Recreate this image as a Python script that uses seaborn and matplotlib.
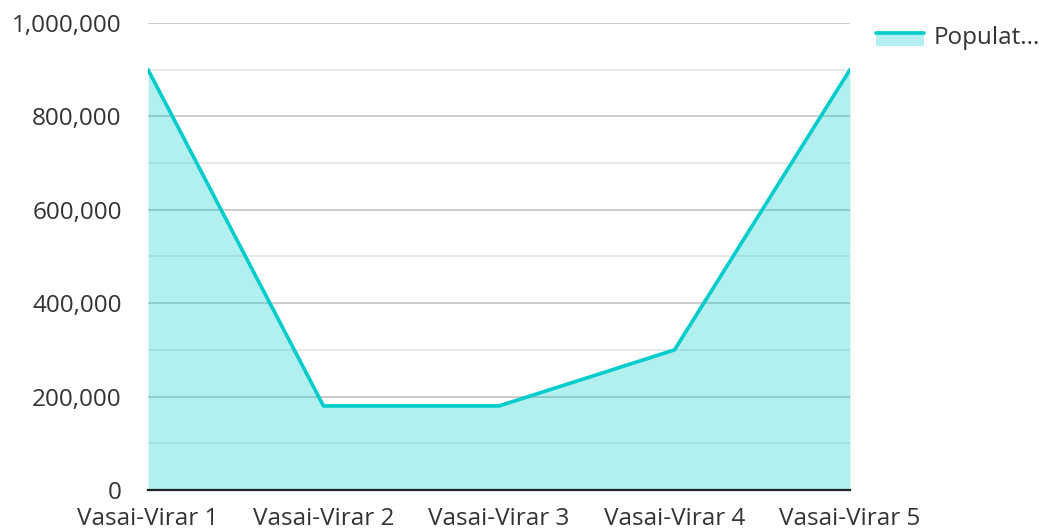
import matplotlib
matplotlib.use("Agg")
import matplotlib.pyplot as plt
import seaborn as sns
import pandas as pd
from matplotlib.ticker import MultipleLocator, FuncFormatter
from matplotlib.legend_handler import HandlerBase
from matplotlib.patches import Rectangle
from matplotlib.lines import Line2D

# data
cities = ['Vasai-Virar 1', 'Vasai-Virar 2', 'Vasai-Virar 3', 'Vasai-Virar 4', 'Vasai-Virar 5']
population = [900000, 180000, 180000, 300000, 900000]
series_name = 'Populat...'

line_col = '#00cccc'
text_col = '#333333'
fs = 17.5

df = pd.DataFrame({'x': range(len(cities)), 'city': cities, 'Population': population})

sns.set_theme(style='white')
plt.rcParams['font.family'] = ['Open Sans', 'DejaVu Sans']

fig = plt.figure(figsize=(10.47, 5.31), dpi=100)
ax = fig.add_axes([0.1414, 0.0772, 0.8118 - 0.1414, 0.9567 - 0.0772])

# grid under the fill
ax.yaxis.set_major_locator(MultipleLocator(200000))
ax.yaxis.set_minor_locator(MultipleLocator(100000))
ax.grid(True, which='major', axis='y', color='#c8c8c8', linewidth=1.3, zorder=0)
ax.grid(True, which='minor', axis='y', color='#e6e6e6', linewidth=1.3, zorder=0)
ax.set_axisbelow(True)

ax.fill_between(df['x'], df['Population'], 0, color=line_col, alpha=0.3, linewidth=0, zorder=1)
sns.lineplot(data=df, x='x', y='Population', color=line_col, linewidth=2.6, ax=ax, zorder=3)

ax.set_xlim(0, len(cities) - 1)
ax.set_ylim(0, 1000000)
ax.set_xticks(df['x'])
ax.set_xticklabels(cities)
ax.yaxis.set_major_formatter(FuncFormatter(lambda v, p: f'{int(v):,}'))
ax.tick_params(axis='both', which='both', length=0, labelsize=fs, colors=text_col)
ax.tick_params(axis='x', pad=12)
ax.tick_params(axis='y', pad=19)
ax.set_xlabel('')
ax.set_ylabel('')

for s in ['top', 'right', 'left']:
    ax.spines[s].set_visible(False)
ax.spines['bottom'].set_color('#222222')
ax.spines['bottom'].set_linewidth(1.6)
ax.spines['bottom'].set_zorder(4)


class AreaHandler(HandlerBase):
    # light patch with the line along its top edge
    def create_artists(self, legend, orig, xd, yd, w, h, fontsize, trans):
        rect = Rectangle((-xd, -yd - 0.17 * h), w, 0.94 * h, facecolor=line_col, alpha=0.3,
                         linewidth=0, transform=trans)
        ln = Line2D([-xd, -xd + w], [-yd + 0.67 * h, -yd + 0.67 * h], color=line_col,
                    linewidth=2.6, transform=trans)
        return [rect, ln]


proxy = Rectangle((0, 0), 1, 1)
fig.legend([proxy], [series_name], handler_map={Rectangle: AreaHandler()},
           loc='upper left', bbox_to_anchor=(0.8367, 0.951), frameon=False,
           borderaxespad=0, borderpad=0,
           fontsize=fs, handlelength=1.96, handleheight=0.6, handletextpad=0.4,
           labelcolor=text_col)

fig.savefig('out.png', dpi=100)
